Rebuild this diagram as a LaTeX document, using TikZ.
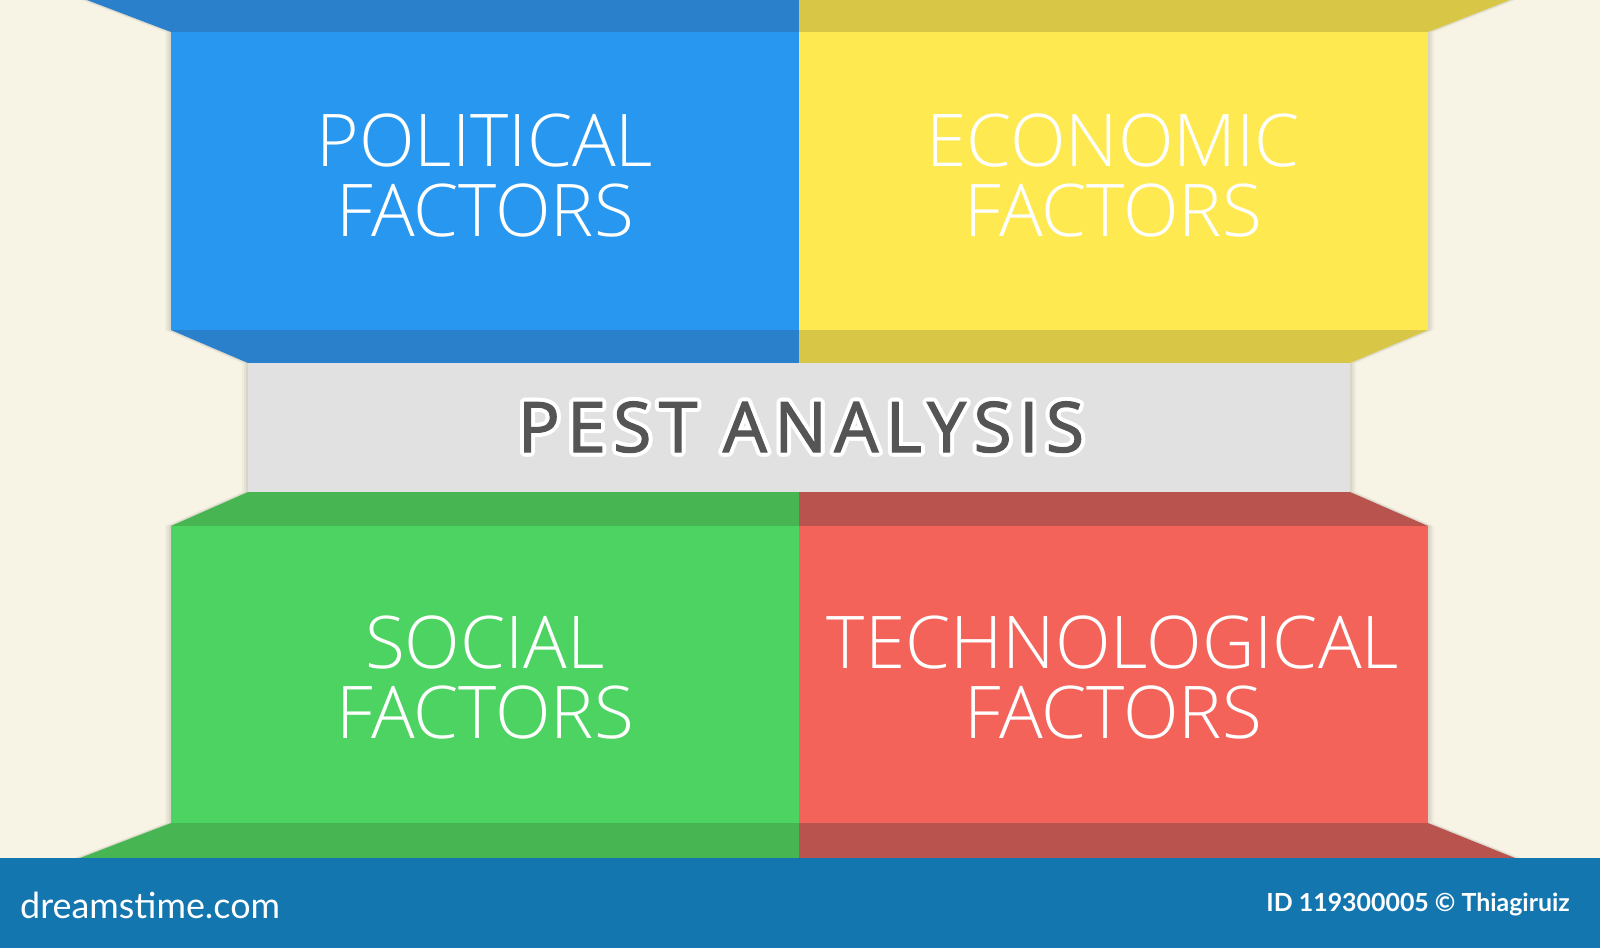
\documentclass[tikz,border=0pt]{standalone}
\usepackage{fontspec}
\usetikzlibrary{calc}
\setmainfont{Open Sans}[UprightFont={* Light}]
\newfontfamily\pestfont{Open Sans}[LetterSpace=10.5, FakeBold=1.6]
\newfontfamily\barfont{Lato}
\definecolor{bg}{HTML}{F7F4E5}
\definecolor{blueM}{HTML}{2897EF}
\definecolor{blueD}{HTML}{2B80CB}
\definecolor{yelM}{HTML}{FEEA50}
\definecolor{yelD}{HTML}{D8C646}
\definecolor{greM}{HTML}{4CD361}
\definecolor{greD}{HTML}{46B552}
\definecolor{redM}{HTML}{F3635A}
\definecolor{redD}{HTML}{B9534E}
\definecolor{band}{HTML}{E1E1E1}
\definecolor{barblue}{HTML}{1476AF}
\definecolor{pesttext}{HTML}{555555}
\tikzset{
  factor/.style={text=white, inner sep=0pt, anchor=base, font=\fontsize{73}{73}\selectfont},
  pestlbl/.style={inner sep=0pt, anchor=base, font=\fontsize{70}{70}\selectfont\pestfont},
}
\begin{document}
\begin{tikzpicture}[x=1bp,y=-1bp]
\useasboundingbox (0,0) rectangle (1600,948);
\fill[bg] (0,0) rectangle (1600,948);
% soft shadows
\foreach \d/\o in {6/0.03,4/0.04,2/0.05}{
  \fill[black,opacity=\o] (87-\d,0) -- (171-\d,32) -- (171-\d,330) -- (248-\d,363) -- (248-\d,492) -- (171-\d,526) -- (171-\d,823) -- (80-\d,858) -- (80,858) -- (171,823) -- (171,526) -- (248,492) -- (248,363) -- (171,330) -- (171,32) -- (87,0) -- cycle;
  \fill[black,opacity=\o] (1510+\d,0) -- (1428+\d,32) -- (1428+\d,330) -- (1350+\d,363) -- (1350+\d,492) -- (1428+\d,526) -- (1428+\d,823) -- (1515+\d,858) -- (1515,858) -- (1428,823) -- (1428,526) -- (1350,492) -- (1350,363) -- (1428,330) -- (1428,32) -- (1510,0) -- cycle;
}
% political
\fill[blueD] (87,0) -- (799,0) -- (799,32) -- (171,32) -- cycle;
\fill[blueM] (171,32) rectangle (799,330);
\fill[blueD] (171,330) -- (799,330) -- (799,363) -- (248,363) -- cycle;
% economic
\fill[yelD] (799,0) -- (1510,0) -- (1428,32) -- (799,32) -- cycle;
\fill[yelM] (799,32) rectangle (1428,330);
\fill[yelD] (799,330) -- (1428,330) -- (1350,363) -- (799,363) -- cycle;
% band
\fill[band] (248,363) rectangle (1350,492);
% social
\fill[greD] (248,492) -- (799,492) -- (799,526) -- (171,526) -- cycle;
\fill[greM] (171,526) rectangle (799,823);
\fill[greD] (171,823) -- (799,823) -- (799,858) -- (80,858) -- cycle;
% technological
\fill[redD] (799,492) -- (1350,492) -- (1428,526) -- (799,526) -- cycle;
\fill[redM] (799,526) rectangle (1428,823);
\fill[redD] (799,823) -- (1428,823) -- (1515,858) -- (799,858) -- cycle;
% bottom bar
\fill[barblue] (0,858) rectangle (1600,948);

% texts
\node[factor] (pol1) at (485,166) {POLITICAL};
\node[factor] (pol2) at (485,236) {FACTORS};
\node[factor] (eco1) at (1113,166) {ECONOMIC};
\node[factor] (eco2) at (1113,236) {FACTORS};
\node[factor] (soc1) at (485,668) {SOCIAL};
\node[factor] (soc2) at (485,738) {FACTORS};
\node[factor] (tec1) at (1113,668) {TECHNOLOGICAL};
\node[factor] (tec2) at (1113,738) {FACTORS};

\foreach \a in {0,22.5,...,359}{
  \node[pestlbl,text=white] at ($(801,452)+(\a:4)$) {PEST ANALYSIS};
}
\node[pestlbl,text=pesttext] (pest) at (801,452) {PEST ANALYSIS};

\node[anchor=base west, inner sep=0pt, text=white, font=\fontsize{36}{36}\selectfont\barfont] (site) at (20,918) {dreamstime.com};
\node[anchor=base east, inner sep=0pt, text=white, font=\fontsize{25}{25}\selectfont\barfont\bfseries] (credit) at (1570,911) {ID 119300005 © Thiagiruiz};
\end{tikzpicture}
\end{document}
